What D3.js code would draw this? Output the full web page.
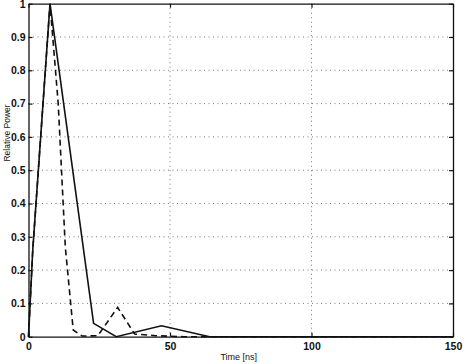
<!doctype html>
<meta charset="utf-8">
<title>relative power vs time</title>
<script src="https://cdn.jsdelivr.net/npm/d3@7"></script>
<style>
  body { margin: 0; background: #fff; }
  text { font-family: "Liberation Sans", Arial, sans-serif; fill: #111; }
</style>
<body>
<svg id="chart" width="474" height="364"></svg>
<script>

// data
var solidT = [0, 1.5, 7.6, 23, 31, 47, 64, 150];
var solidP = [0, 0.26, 1, 0.04, 0, 0.033, 0, 0];

var dashT = [0, 1.5, 7.6, 10.5, 13, 15.8, 19, 24.5, 31.5, 37.5, 45, 55, 150];
var dashP = [0, 0.26, 1, 0.7, 0.27, 0.02, 0.002, 0.003, 0.088, 0.008, 0.003, 0, 0];

var xTicks = [0, 50, 100, 150];
var yTicks = [0, 0.1, 0.2, 0.3, 0.4, 0.5, 0.6, 0.7, 0.8, 0.9, 1];
var yTickLabels = ["0", "0.1", "0.2", "0.3", "0.4", "0.5", "0.6", "0.7", "0.8", "0.9", "1"];

var svg = d3.select("#chart");
// plot box (note: "top" is reserved on window, so use other names)
var plotL = 28.5, plotR = 453, plotT = 3.7, plotB = 336.7;

var x = d3.scaleLinear().domain([0, 150]).range([plotL, plotR]);
var y = d3.scaleLinear().domain([0, 1]).range([plotB, plotT]);

// dotted grid
var grid = svg.append("g")
  .attr("stroke", "#555")
  .attr("stroke-width", 0.8)
  .attr("stroke-dasharray", "1,3.5");
grid.selectAll("line.gx")
  .data(xTicks.slice(1, -1))
  .enter().append("line")
  .attr("x1", function(d) { return x(d); })
  .attr("x2", function(d) { return x(d); })
  .attr("y1", plotT).attr("y2", plotB);
grid.selectAll("line.gy")
  .data(yTicks.slice(1, -1))
  .enter().append("line")
  .attr("y1", function(d) { return y(d); })
  .attr("y2", function(d) { return y(d); })
  .attr("x1", plotL).attr("x2", plotR);

// axes with inward ticks, matlab style
var yAxis = d3.axisLeft(y).tickValues(yTicks).tickSizeInner(-4).tickSizeOuter(0)
  .tickPadding(3).tickFormat(function(d, i) { return yTickLabels[i]; });
svg.append("g").attr("transform", "translate(" + plotL + ",0)").call(yAxis);

var xAxis = d3.axisBottom(x).tickValues(xTicks).tickSizeInner(-4).tickSizeOuter(0)
  .tickPadding(6).tickFormat(d3.format("d"));
svg.append("g").attr("transform", "translate(0," + plotB + ")").call(xAxis);

// right + top ticks
svg.append("g").attr("transform", "translate(" + plotR + ",0)")
  .call(d3.axisRight(y).tickValues(yTicks).tickSizeInner(-4).tickSizeOuter(0).tickFormat(""));
svg.append("g").attr("transform", "translate(0," + plotT + ")")
  .call(d3.axisTop(x).tickValues(xTicks).tickSizeInner(-4).tickSizeOuter(0).tickFormat(""));

svg.selectAll(".domain").attr("stroke", "#111").attr("stroke-width", 1.3);
svg.selectAll(".tick line").attr("stroke", "#111").attr("stroke-width", 1.2);
svg.selectAll(".tick text").style("font-size", "10.5px").style("font-weight", "bold")
  .style("font-family", "'Liberation Sans', Arial, sans-serif").attr("fill", "#111");

// lines
var line = d3.line()
  .x(function(d) { return x(d[0]); })
  .y(function(d) { return y(d[1]); });

svg.append("path")
  .datum(d3.zip(dashT, dashP))
  .attr("fill", "none")
  .attr("stroke", "#111")
  .attr("stroke-width", 1.6)
  .attr("stroke-dasharray", "6,4")
  .attr("d", line);

svg.append("path")
  .datum(d3.zip(solidT, solidP))
  .attr("fill", "none")
  .attr("stroke", "#111")
  .attr("stroke-width", 1.6)
  .attr("d", line);

// labels
svg.append("text")
  .attr("x", (plotL + plotR) / 2 - 2)
  .attr("y", 360)
  .attr("text-anchor", "middle")
  .style("font-size", "9px")
  .text("Time [ns]");

svg.append("text")
  .attr("transform", "translate(10,133) rotate(-90)")
  .attr("text-anchor", "middle")
  .style("font-size", "8.5px")
  .text("Relative Power");

</script>
</body>
